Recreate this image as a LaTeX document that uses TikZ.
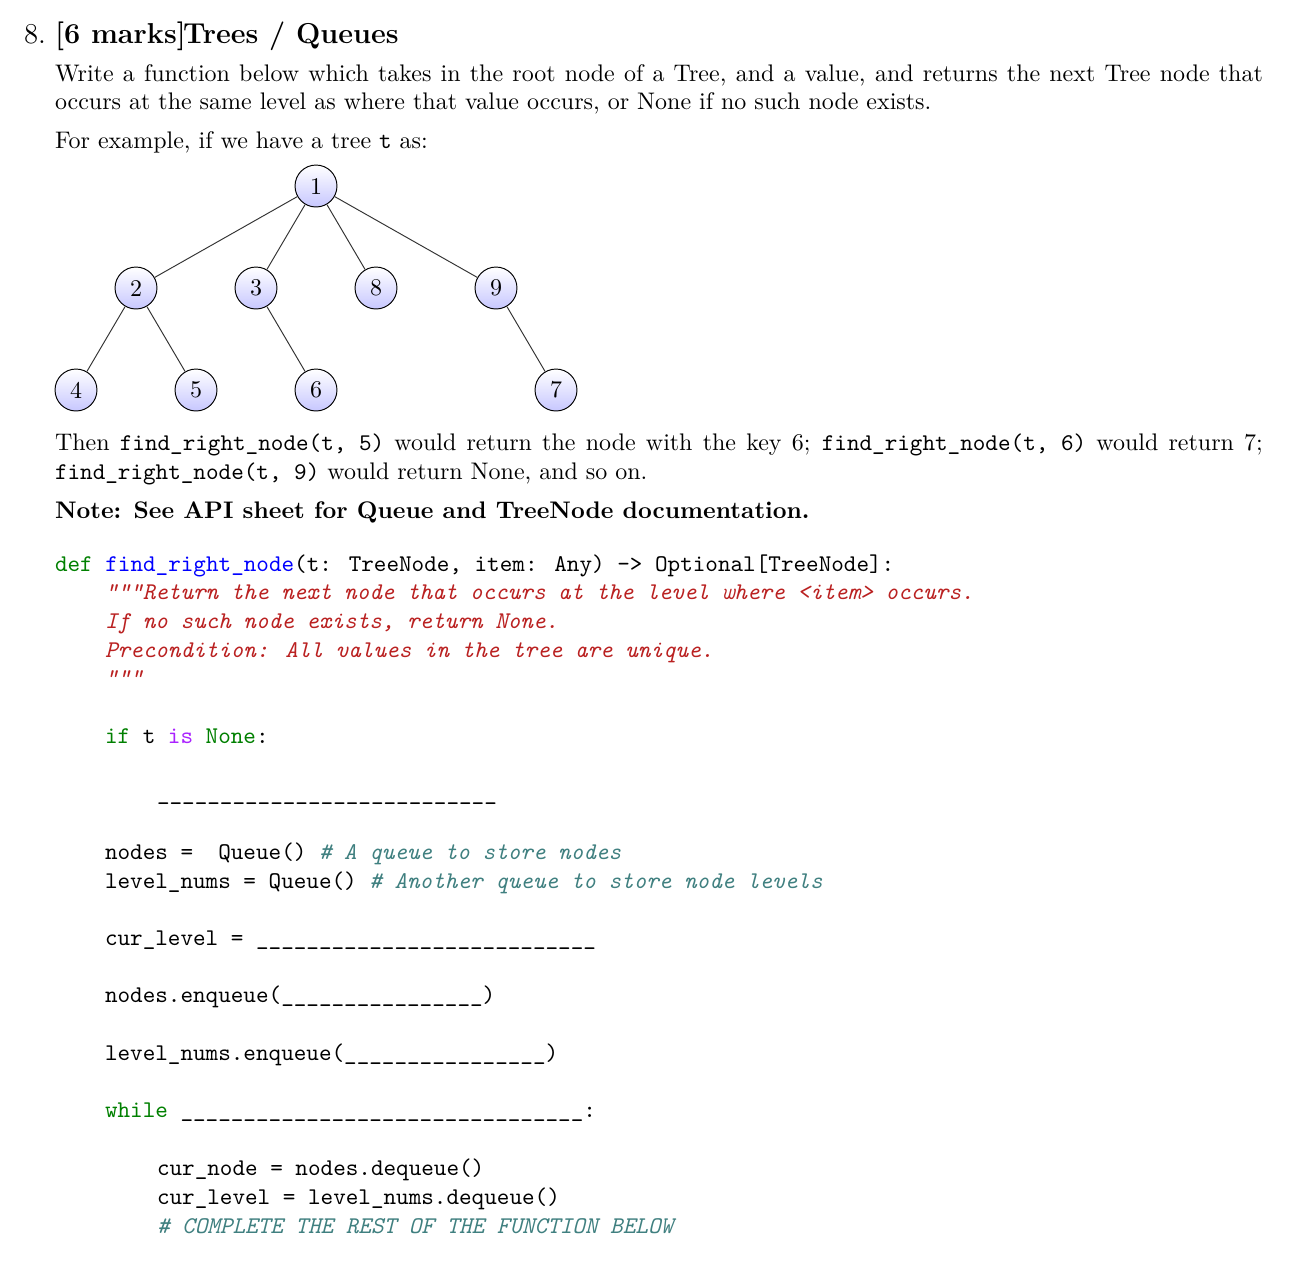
\documentclass[tikz,border=0pt]{standalone}
\definecolor{kwc}{HTML}{008000}
\definecolor{fnc}{HTML}{0000FF}
\definecolor{strc}{HTML}{BA2121}
\definecolor{cmtc}{HTML}{408080}
\definecolor{puc}{HTML}{AA22FF}
\newcommand{\ul}[1]{\foreach \i in {1,...,#1}{\_}}
\begin{document}
\begin{tikzpicture}[x=0.417pt,y=-0.417pt,
  txt/.style={anchor=base west,inner sep=0pt,outer sep=0pt},
  code/.style={txt,font=\ttfamily},
  tn/.style={circle,draw,minimum size=17.5pt,inner sep=0pt,top color=white,bottom color=blue!22,font=\normalsize},
  edge/.style={draw,black!80,line width=0.4pt}]
\useasboundingbox[fill=white] (0,0) rectangle (1298,1280);
% header
\node[txt,font=\large] (h1) at (24,43) {8.};
\node[txt,font=\large\bfseries] (h2) at (55,43) {[6 marks]};
\node[txt,font=\large\bfseries] (h3) at (183,43) {Trees / Queues};
\node[txt] (p1) at (55,81) {\makebox[503.7pt][s]{Write a function below which takes in the root node of a Tree, and a value, and returns the next Tree node that}};
\node[txt] (p2) at (55,109) {occurs at the same level as where that value occurs, or None if no such node exists.};
\node[txt] (p3) at (55,148) {For example, if we have a tree \texttt{t} as:};
% tree
\node[tn] (n1) at (316,186) {1};
\node[tn] (n2) at (136,288) {2};
\node[tn] (n3) at (256,288) {3};
\node[tn] (n8) at (376,288) {8};
\node[tn] (n9) at (496,288) {9};
\node[tn] (n4) at (76,390) {4};
\node[tn] (n5) at (196,390) {5};
\node[tn] (n6) at (316,390) {6};
\node[tn] (n7) at (556,390) {7};
\foreach \a/\b in {n1/n2,n1/n3,n1/n8,n1/n9,n2/n4,n2/n5,n3/n6,n9/n7}{\path[edge] (\a) -- (\b);}
\node[txt] (p4) at (55,450) {\makebox[503.7pt][s]{Then \texttt{find\_right\_node(t, 5)} would return the node with the key 6; \texttt{find\_right\_node(t, 6)} would return 7;}};
\node[txt] (p5) at (55,479) {\texttt{find\_right\_node(t, 9)} would return None, and so on.};
\node[txt,font=\bfseries] (p6) at (55,518) {Note: See API sheet for Queue and TreeNode documentation.};
% code
\node[code] (c1) at (55,571) {\textcolor{kwc}{def} \textcolor{fnc}{find\_right\_node}(t: TreeNode, item: Any) -> Optional[TreeNode]:};
\node[code,text=strc,font=\ttfamily\itshape] (c2) at (105,599) {"""Return the next node that occurs at the level where <item> occurs.};
\node[code,text=strc,font=\ttfamily\itshape] (c3) at (105,628) {If no such node exists, return None.};
\node[code,text=strc,font=\ttfamily\itshape] (c4) at (105,657) {Precondition: All values in the tree are unique.};
\node[code,text=strc,font=\ttfamily\itshape] (c5) at (105,685) {"""};
\node[code] (c6) at (105,743) {\textcolor{kwc}{if} t \textcolor{puc}{is} \textcolor{kwc}{None}:};
\node[code] (c7) at (157,800) {\ul{27}};
\node[code] (c8) at (105,859) {nodes =\ \ Queue() \textcolor{cmtc}{\itshape\# A queue to store nodes}};
\node[code] (c9) at (105,888) {level\_nums = Queue() \textcolor{cmtc}{\itshape\# Another queue to store node levels}};
\node[code] (c10) at (105,945) {cur\_level = \ul{27}};
\node[code] (c11) at (105,1002) {nodes.enqueue(\ul{16})};
\node[code] (c12) at (105,1060) {level\_nums.enqueue(\ul{16})};
\node[code] (c13) at (105,1117) {\textcolor{kwc}{while} \ul{32}:};
\node[code] (c14) at (157,1175) {cur\_node = nodes.dequeue()};
\node[code] (c15) at (157,1204) {cur\_level = level\_nums.dequeue()};
\node[code,text=cmtc,font=\ttfamily\itshape] (c16) at (157,1233) {\# COMPLETE THE REST OF THE FUNCTION BELOW};
\end{tikzpicture}
\end{document}
